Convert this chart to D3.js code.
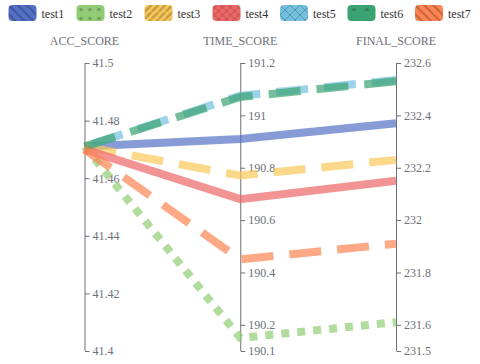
<!DOCTYPE html>
<html><head><meta charset="utf-8">
<script src="https://cdn.jsdelivr.net/npm/d3@7"></script>
<style>html,body{margin:0;padding:0;background:#fff;}svg{display:block;}</style>
</head><body><div id="chart"></div>
<script>
const seriesNames = ["test1","test2","test3","test4","test5","test6","test7"];
const dimensions = ["ACC_SCORE","TIME_SCORE","FINAL_SCORE"];
const accScore   = [41.471, 41.471, 41.471, 41.470, 41.471, 41.471, 41.470];
const timeScore  = [190.91, 190.15, 190.77, 190.68, 191.075, 191.07, 190.45];
const finalScore = [232.37, 231.61, 232.23, 232.15, 232.535, 232.53, 231.91];
const accTicks   = [41.4, 41.42, 41.44, 41.46, 41.48, 41.5];
const timeTicks  = [190.1, 190.2, 190.4, 190.6, 190.8, 191, 191.2];
const finalTicks = [231.5, 231.6, 231.8, 232, 232.2, 232.4, 232.6];
const colors = ["#5470c6","#91cc75","#fac858","#ee6666","#73c0de","#3ba272","#fc8452"];
const lineTypes = ["solid","dotted","dashed","solid","dashed","dashed","dashed"];
const dashOffsets = [0, 0, 0, 0, -8, 0, 0];

const W = 480, H = 364;
const FONT = "Liberation Serif";
const svg = d3.select("#chart").append("svg").attr("width", W).attr("height", H)
  .attr("font-family", FONT).attr("font-size", 12);

const x = d3.scalePoint().domain(dimensions).range([84.5, 396]);
const yTop = 63, yBot = 351;
const y = {
  ACC_SCORE: d3.scaleLinear().domain([41.4, 41.5]).range([yBot, yTop]),
  TIME_SCORE: d3.scaleLinear().domain([190.1, 191.2]).range([yBot, yTop]),
  FINAL_SCORE: d3.scaleLinear().domain([231.5, 232.6]).range([yBot, yTop])
};
const ticks = {ACC_SCORE: accTicks, TIME_SCORE: timeTicks, FINAL_SCORE: finalTicks};
const vals = {ACC_SCORE: accScore, TIME_SCORE: timeScore, FINAL_SCORE: finalScore};

// axes
dimensions.forEach(d => {
  const g = svg.append("g").attr("transform", `translate(${x(d)},0)`);
  const ax = d3.axisRight(y[d]).tickValues(ticks[d]).tickSize(5).tickPadding(3).tickFormat(v => String(+v.toFixed(4)));
  g.call(ax);
  g.attr("font-family", FONT).attr("font-size", 12);
  g.select(".domain").attr("stroke", "#6e7079").attr("d", `M0.5,${yTop}V${yBot}`);
  g.selectAll(".tick line").attr("stroke", "#6e7079").attr("x1", 0.5);
  g.selectAll(".tick text").attr("fill", "#6e7079").attr("font-family", FONT).attr("font-size", 12);
  svg.append("text").attr("x", x(d)).attr("y", 45).attr("text-anchor", "middle")
    .attr("font-family", FONT).attr("font-size", 12)
    .attr("fill", "#6e7079").text(d);
});

// lines
const line = d3.line();
seriesNames.forEach((s, i) => {
  const pts = dimensions.map(d => [x(d), y[d](vals[d][i])]);
  const p = svg.append("path").attr("d", line(pts)).attr("fill", "none")
    .attr("stroke", colors[i]).attr("stroke-width", 8).attr("stroke-opacity", 0.7)
    .attr("stroke-dashoffset", dashOffsets[i]);
  if (lineTypes[i] === "dashed") p.attr("stroke-dasharray", "32,16");
  if (lineTypes[i] === "dotted") p.attr("stroke-dasharray", "8,8");
});

// legend patterns
const defs = svg.append("defs");
function pat(id, color, drawFn, size) {
  const p = defs.append("pattern").attr("id", id).attr("patternUnits", "userSpaceOnUse")
    .attr("width", size).attr("height", size);
  p.append("rect").attr("width", size).attr("height", size).attr("fill", color);
  drawFn(p, size);
}
const dark = "rgba(0,0,0,0.22)";
const stripes = (p, s) => { p.append("path").attr("d", `M0,0L${s},${s}M${-s},0L${s},${2*s}M0,${-s}L${2*s},${s}`).attr("stroke", dark).attr("stroke-width", 2); };
const stripes2 = (p, s) => { p.append("path").attr("d", `M0,${s}L${s},0M${-s},${s}L0,0M${s},${2*s}L${2*s},${s}`).attr("stroke", dark).attr("stroke-width", 2.5); };
const dots = (p, s) => { p.append("circle").attr("cx", s/2).attr("cy", s/2).attr("r", 1.8).attr("fill", dark); };
const checker = (p, s) => { p.append("rect").attr("width", s/2).attr("height", s/2).attr("fill", "rgba(0,0,0,0.12)"); p.append("rect").attr("x", s/2).attr("y", s/2).attr("width", s/2).attr("height", s/2).attr("fill", "rgba(0,0,0,0.12)"); };
const cross = (p, s) => { p.append("path").attr("d", `M0,0L${s},${s}M${s},0L0,${s}`).attr("stroke", dark).attr("stroke-width", 1); };
const tri = (p, s) => { p.append("path").attr("d", `M${s/2},${s*0.15}L${s*0.7},${s*0.45}L${s*0.3},${s*0.45}Z`).attr("fill", dark); };
const patFns = [[stripes,9],[dots,9],[stripes2,7],[checker,8],[cross,10],[tri,13],[stripes,9]];
seriesNames.forEach((s, i) => pat("pat"+i, colors[i], patFns[i][0], patFns[i][1]));

const legend = svg.append("g");
const itemX = [8.5, 76.5, 144.5, 212.5, 280, 347.5, 415];
seriesNames.forEach((s, i) => {
  const g = legend.append("g").attr("transform", `translate(${itemX[i]},5)`);
  g.append("rect").attr("width", 28).attr("height", 16).attr("rx", 4).attr("fill", `url(#pat${i})`);
  g.append("text").attr("x", 33).attr("y", 12.5).attr("fill", "#333")
    .attr("font-family", FONT).attr("font-size", 12).text(s);
});
</script></body></html>
